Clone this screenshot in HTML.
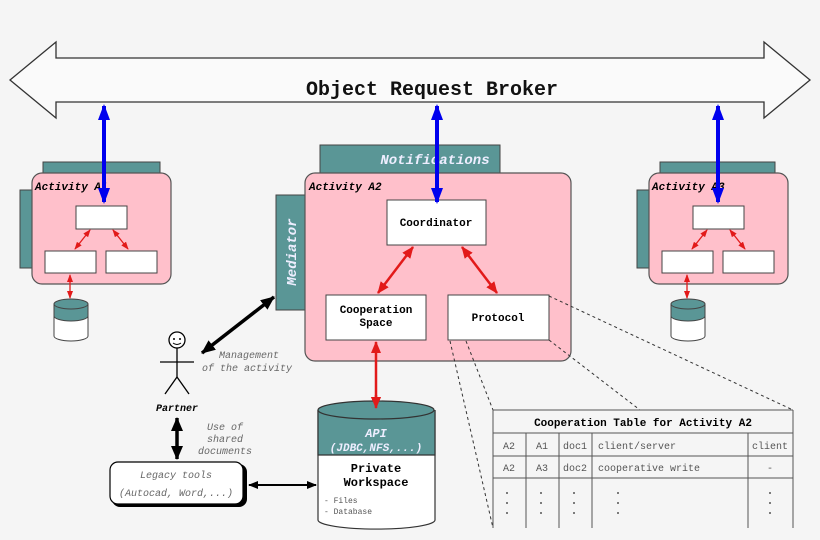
<!DOCTYPE html>
<html><head><meta charset="utf-8"><style>
html,body{margin:0;padding:0;background:#f5f5f5}
svg{display:block}
text{font-family:"Liberation Mono",monospace}
</style></head><body>
<svg width="820" height="540" viewBox="0 0 820 540" xmlns="http://www.w3.org/2000/svg">
<defs>
<marker id="bl" markerWidth="16" markerHeight="12" refX="14" refY="6" orient="auto-start-reverse" markerUnits="userSpaceOnUse" viewBox="0 0 16 12"><path d="M0,0 L16,6 L0,12 z" fill="#0000ee"/></marker>
<marker id="rd" markerWidth="8" markerHeight="6" refX="7" refY="3" orient="auto-start-reverse" markerUnits="userSpaceOnUse" viewBox="0 0 8 6"><path d="M0,0 L8,3 L0,6 z" fill="#e21a1a"/></marker>
<marker id="rd2" markerWidth="12" markerHeight="10" refX="11" refY="5" orient="auto-start-reverse" markerUnits="userSpaceOnUse" viewBox="0 0 12 10"><path d="M0,0 L12,5 L0,10 z" fill="#e21a1a"/></marker>
<marker id="bk" markerWidth="14" markerHeight="12" refX="13" refY="6" orient="auto-start-reverse" markerUnits="userSpaceOnUse" viewBox="0 0 14 12"><path d="M0,0 L14,6 L0,12 z" fill="#000"/></marker>
<marker id="bks" markerWidth="10" markerHeight="8" refX="9" refY="4" orient="auto-start-reverse" markerUnits="userSpaceOnUse" viewBox="0 0 10 8"><path d="M0,0 L10,4 L0,8 z" fill="#000"/></marker>
</defs>
<rect width="820" height="540" fill="#f5f5f5"/>
<path d="M10,80 L56,42 L56,58 L764,58 L764,42 L810,80 L764,118 L764,102 L56,102 L56,118 Z" fill="#fafafa" stroke="#333" stroke-width="1.3"/>
<text x="432" y="95" text-anchor="middle" font-size="20" font-weight="bold" fill="#111">Object Request Broker</text>

<rect x="43" y="162" width="117" height="14" fill="#5a9696" stroke="#444"/>
<rect x="20" y="190" width="14" height="78" fill="#5a9696" stroke="#444"/>
<rect x="32" y="173" width="139" height="111" rx="10" fill="#ffc0cb" stroke="#555" stroke-width="1.2"/>
<text x="35" y="190" font-size="11" font-weight="bold" font-style="italic">Activity A1</text>
<rect x="76" y="206" width="51" height="23" fill="#fff" stroke="#444"/>
<rect x="45" y="251" width="51" height="22" fill="#fff" stroke="#444"/>
<rect x="106" y="251" width="51" height="22" fill="#fff" stroke="#444"/>
<line x1="90" y1="230" x2="75" y2="249" stroke="#e21a1a" stroke-width="1.3" marker-start="url(#rd)" marker-end="url(#rd)"/>
<line x1="113" y1="230" x2="128" y2="249" stroke="#e21a1a" stroke-width="1.3" marker-start="url(#rd)" marker-end="url(#rd)"/>
<line x1="70" y1="275" x2="70" y2="298" stroke="#e21a1a" stroke-width="1.3" marker-start="url(#rd)" marker-end="url(#rd)"/>
<path d="M54,304 L54,336 A17,5 0 0 0 88,336 L88,304" fill="#fff" stroke="#444"/>
<path d="M54,304 L54,316 A17,5 0 0 0 88,316 L88,304" fill="#5a9696" stroke="#444"/>
<ellipse cx="71" cy="304" rx="17" ry="5" fill="#5a9696" stroke="#444"/>
<line x1="104" y1="106" x2="104" y2="202" stroke="#0000ee" stroke-width="4" marker-start="url(#bl)" marker-end="url(#bl)"/>

<rect x="660" y="162" width="115" height="14" fill="#5a9696" stroke="#444"/>
<rect x="637" y="190" width="14" height="78" fill="#5a9696" stroke="#444"/>
<rect x="649" y="173" width="139" height="111" rx="10" fill="#ffc0cb" stroke="#555" stroke-width="1.2"/>
<text x="652" y="190" font-size="11" font-weight="bold" font-style="italic">Activity A3</text>
<rect x="693" y="206" width="51" height="23" fill="#fff" stroke="#444"/>
<rect x="662" y="251" width="51" height="22" fill="#fff" stroke="#444"/>
<rect x="723" y="251" width="51" height="22" fill="#fff" stroke="#444"/>
<line x1="707" y1="230" x2="692" y2="249" stroke="#e21a1a" stroke-width="1.3" marker-start="url(#rd)" marker-end="url(#rd)"/>
<line x1="730" y1="230" x2="745" y2="249" stroke="#e21a1a" stroke-width="1.3" marker-start="url(#rd)" marker-end="url(#rd)"/>
<line x1="687" y1="275" x2="687" y2="298" stroke="#e21a1a" stroke-width="1.3" marker-start="url(#rd)" marker-end="url(#rd)"/>
<path d="M671,304 L671,336 A17,5 0 0 0 705,336 L705,304" fill="#fff" stroke="#444"/>
<path d="M671,304 L671,316 A17,5 0 0 0 705,316 L705,304" fill="#5a9696" stroke="#444"/>
<ellipse cx="688" cy="304" rx="17" ry="5" fill="#5a9696" stroke="#444"/>
<line x1="718" y1="106" x2="718" y2="202" stroke="#0000ee" stroke-width="4" marker-start="url(#bl)" marker-end="url(#bl)"/>

<rect x="320" y="145" width="180" height="30" fill="#5a9696" stroke="#444"/>
<text x="435" y="164" text-anchor="middle" font-size="14" font-weight="bold" font-style="italic" fill="#eef">Notifications</text>
<rect x="276" y="195" width="30" height="115" fill="#5a9696" stroke="#444"/>
<text transform="translate(296,252) rotate(-90)" text-anchor="middle" font-size="14" font-weight="bold" font-style="italic" fill="#eef">Mediator</text>
<rect x="305" y="173" width="266" height="188" rx="10" fill="#ffc0cb" stroke="#555" stroke-width="1.2"/>
<text x="309" y="190" font-size="11" font-weight="bold" font-style="italic">Activity A2</text>
<rect x="387" y="200" width="99" height="45" fill="#fff" stroke="#444"/>
<text x="436" y="226" text-anchor="middle" font-size="11" font-weight="bold">Coordinator</text>
<rect x="326" y="295" width="100" height="45" fill="#fff" stroke="#444"/>
<text x="376" y="313" text-anchor="middle" font-size="11" font-weight="bold">Cooperation</text>
<text x="376" y="326" text-anchor="middle" font-size="11" font-weight="bold">Space</text>
<rect x="448" y="295" width="101" height="45" fill="#fff" stroke="#444"/>
<text x="498" y="321" text-anchor="middle" font-size="11" font-weight="bold">Protocol</text>
<line x1="413" y1="247" x2="378" y2="293" stroke="#e21a1a" stroke-width="2.5" marker-start="url(#rd2)" marker-end="url(#rd2)"/>
<line x1="462" y1="247" x2="497" y2="293" stroke="#e21a1a" stroke-width="2.5" marker-start="url(#rd2)" marker-end="url(#rd2)"/>
<line x1="376" y1="342" x2="376" y2="408" stroke="#e21a1a" stroke-width="2.5" marker-start="url(#rd2)" marker-end="url(#rd2)"/>
<line x1="437" y1="106" x2="437" y2="202" stroke="#0000ee" stroke-width="4" marker-start="url(#bl)" marker-end="url(#bl)"/>

<g stroke="#333" stroke-width="1" stroke-dasharray="3,3" fill="none">
<line x1="450" y1="341" x2="493" y2="528"/>
<line x1="466" y1="341" x2="493" y2="410"/>
<line x1="549" y1="296" x2="793" y2="410"/>
<line x1="549" y1="340" x2="640" y2="410"/>
</g>

<rect x="493" y="410" width="300" height="120" fill="#f5f5f5" stroke="none"/>
<g stroke="#555" stroke-width="1" fill="none">
<line x1="493" y1="410" x2="793" y2="410"/>
<line x1="493" y1="410" x2="493" y2="528"/>
<line x1="793" y1="410" x2="793" y2="528"/>
<line x1="493" y1="433" x2="793" y2="433"/>
<line x1="493" y1="456" x2="793" y2="456"/>
<line x1="493" y1="478" x2="793" y2="478"/>
<line x1="526" y1="433" x2="526" y2="528"/>
<line x1="559" y1="433" x2="559" y2="528"/>
<line x1="592" y1="433" x2="592" y2="528"/>
<line x1="748" y1="433" x2="748" y2="528"/>
</g>
<text x="643" y="426" text-anchor="middle" font-size="11" font-weight="bold">Cooperation Table for Activity A2</text>
<g font-size="10" fill="#555">
<text x="509" y="449" text-anchor="middle">A2</text><text x="542" y="449" text-anchor="middle">A1</text><text x="575" y="449" text-anchor="middle">doc1</text><text x="598" y="449">client/server</text><text x="770" y="449" text-anchor="middle">client</text>
<text x="509" y="471" text-anchor="middle">A2</text><text x="542" y="471" text-anchor="middle">A3</text><text x="575" y="471" text-anchor="middle">doc2</text><text x="598" y="471">cooperative write</text><text x="770" y="471" text-anchor="middle">-</text>
</g>
<g fill="#555">
<circle cx="507" cy="493" r="1"/><circle cx="507" cy="503" r="1"/><circle cx="507" cy="513" r="1"/>
<circle cx="541" cy="493" r="1"/><circle cx="541" cy="503" r="1"/><circle cx="541" cy="513" r="1"/>
<circle cx="574" cy="493" r="1"/><circle cx="574" cy="503" r="1"/><circle cx="574" cy="513" r="1"/>
<circle cx="618" cy="493" r="1"/><circle cx="618" cy="503" r="1"/><circle cx="618" cy="513" r="1"/>
<circle cx="770" cy="493" r="1"/><circle cx="770" cy="503" r="1"/><circle cx="770" cy="513" r="1"/>
</g>

<path d="M318,410 L318,520 A58,9 0 0 0 435,520 L435,410" fill="#fff" stroke="#333" stroke-width="1.2"/>
<path d="M318,410 L318,455 L435,455 L435,410" fill="#5a9696" stroke="#333" stroke-width="1.2"/>
<ellipse cx="376" cy="410" rx="58" ry="9" fill="#5a9696" stroke="#333" stroke-width="1.2"/>
<line x1="376" y1="395" x2="376" y2="408" stroke="#e21a1a" stroke-width="2.5" marker-end="url(#rd2)"/>
<text x="376" y="437" text-anchor="middle" font-size="12" font-weight="bold" font-style="italic" fill="#eef">API</text>
<text x="376" y="451" text-anchor="middle" font-size="11" font-weight="bold" font-style="italic" fill="#eef">(JDBC,NFS,...)</text>
<text x="376" y="472" text-anchor="middle" font-size="12" font-weight="bold">Private</text>
<text x="376" y="486" text-anchor="middle" font-size="12" font-weight="bold">Workspace</text>
<text x="324" y="503" font-size="8" fill="#555">- Files</text>
<text x="324" y="514" font-size="8" fill="#555">- Database</text>

<circle cx="177" cy="340" r="8" fill="#fff" stroke="#000" stroke-width="1.3"/>
<circle cx="174" cy="339" r="1" fill="#000"/><circle cx="180" cy="339" r="1" fill="#000"/>
<path d="M173,343 Q177,346 181,343" stroke="#000" fill="none"/>
<g stroke="#000" stroke-width="1.3" fill="none">
<line x1="177" y1="348" x2="177" y2="377"/>
<line x1="160" y1="362" x2="194" y2="362"/>
<line x1="177" y1="377" x2="165" y2="394"/>
<line x1="177" y1="377" x2="189" y2="394"/>
</g>
<text x="177" y="411" text-anchor="middle" font-size="10" font-weight="bold" font-style="italic">Partner</text>
<text x="219" y="358" font-size="10" font-style="italic" fill="#666">Management</text>
<text x="202" y="371" font-size="10" font-style="italic" fill="#666">of the activity</text>
<line x1="274" y1="297" x2="202" y2="353" stroke="#000" stroke-width="3.5" marker-start="url(#bk)" marker-end="url(#bk)"/>
<line x1="177" y1="418" x2="177" y2="459" stroke="#000" stroke-width="3.5" marker-start="url(#bk)" marker-end="url(#bk)"/>
<text x="225" y="430" text-anchor="middle" font-size="10" font-style="italic" fill="#666">Use of</text>
<text x="225" y="442" text-anchor="middle" font-size="10" font-style="italic" fill="#666">shared</text>
<text x="225" y="454" text-anchor="middle" font-size="10" font-style="italic" fill="#666">documents</text>
<rect x="112" y="464" width="135" height="43" rx="8" fill="#000"/>
<rect x="110" y="462" width="133" height="42" rx="8" fill="#fff" stroke="#000" stroke-width="1.2"/>
<text x="176" y="478" text-anchor="middle" font-size="10" font-style="italic" fill="#666">Legacy tools</text>
<text x="176" y="496" text-anchor="middle" font-size="10" font-style="italic" fill="#666">(Autocad, Word,...)</text>
<line x1="249" y1="485" x2="316" y2="485" stroke="#000" stroke-width="2" marker-start="url(#bks)" marker-end="url(#bks)"/>
</svg>
</body></html>
